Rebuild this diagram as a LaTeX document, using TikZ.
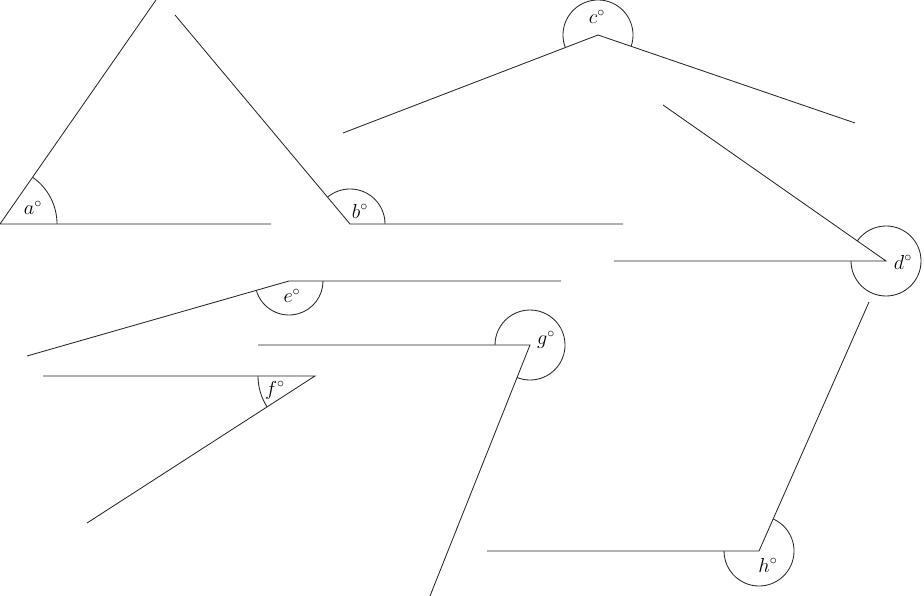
\documentclass[tikz,border=0pt]{standalone}
\begin{document}
\begin{tikzpicture}[x=0.025cm, y=0.025cm, line width=0.6pt,
    ray/.style={black!85},
    deg/.style={font=\fontsize{14.5}{16}\selectfont}]
  \path [use as bounding box] (0, 0) rectangle (924, 596);
  % vertices of the angles
  \coordinate (A) at (0, 372);   \coordinate (B) at (350, 372);
  \coordinate (C) at (598, 561); \coordinate (D) at (886, 335);
  \coordinate (E) at (289, 315); \coordinate (F) at (315, 220);
  \coordinate (G) at (530, 251); \coordinate (H) at (759, 45);
  % a
  \draw [ray] (156, 596) -- (A) -- (271, 372);
  \draw [ray] ([shift={(0:1.425cm)}]A) arc(0:55.1:1.425cm);
  \node [deg] (la) at (33, 388) {$a^\circ$};
  % b
  \draw [ray] (175, 581) -- (B) -- (623, 372);
  \draw [ray] ([shift={(0:0.875cm)}]B) arc(0:129.9:0.875cm);
  \node [deg] (lb) at (360, 385) {$b^\circ$};
  % c
  \draw [ray] (343, 463) -- (C) -- (855, 473);
  \draw [ray] ([shift={(-18.9:0.875cm)}]C) arc(-18.9:201:0.875cm);
  \node [deg] (lc) at (597, 579) {$c^\circ$};
  % d
  \draw [ray] (663, 491) -- (D) -- (614, 335);
  \draw [ray] ([shift={(180:0.875cm)}]D) arc(180:505:0.875cm);
  \node [deg] (ld) at (903, 334) {$d^\circ$};
  % e
  \draw [ray] (27, 240) -- (E) -- (561, 315);
  \draw [ray] ([shift={(196:0.85cm)}]E) arc(196:360:0.85cm);
  \node [deg] (le) at (292, 300) {$e^\circ$};
  % f
  \draw [ray] (43, 220) -- (F) -- (87, 73);
  \draw [ray] ([shift={(180:1.425cm)}]F) arc(180:212.8:1.425cm);
  \node [deg] (lf) at (275, 206) {$f^\circ$};
  % g
  \draw [ray] (258, 251) -- (G) -- (430, 0);
  \draw [ray] ([shift={(-111.7:0.875cm)}]G) arc(-111.7:180:0.875cm);
  \node [deg] (lg) at (546, 256) {$g^\circ$};
  % h
  \draw [ray] (869, 294) -- (H) -- (487, 45);
  \draw [ray] ([shift={(66.2:0.875cm)}]H) arc(66.2:-180:0.875cm);
  \node [deg] (lh) at (768, 31) {$h^\circ$};
\end{tikzpicture}
\end{document}
